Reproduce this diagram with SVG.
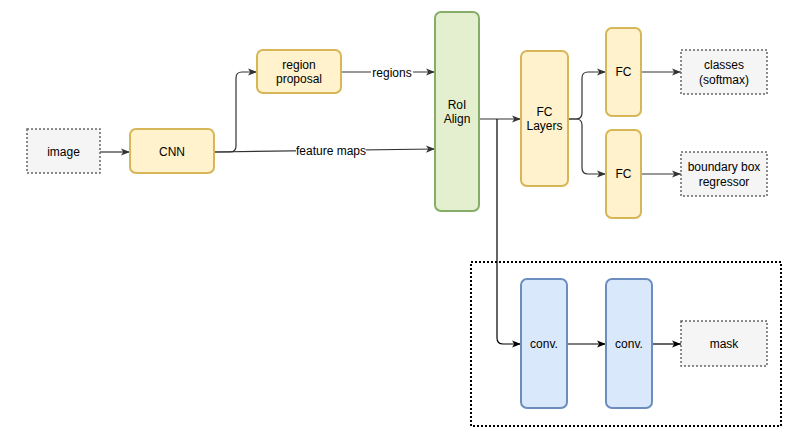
<svg xmlns="http://www.w3.org/2000/svg" width="798" height="437" viewBox="0 0 798 437">
<defs>
<style>
text{font-family:"Liberation Sans",Arial,sans-serif;font-size:12px;fill:#000;text-anchor:middle;dominant-baseline:central}
.y{fill:#fff2cc;stroke:#d6b656;stroke-width:2}
.g{fill:#e4efcf;stroke:#86ad68;stroke-width:2}
.b{fill:#dae8fc;stroke:#6c8ebf;stroke-width:2}
.d{fill:#f5f5f5;stroke:#666;stroke-width:1.5;stroke-dasharray:2 2}
.e{fill:none;stroke:#333;stroke-width:1.2}
.k{fill:none;stroke:#000;stroke-width:1.2}
</style>
<marker id="a" viewBox="0 0 10 10" refX="10" refY="5" markerWidth="9" markerHeight="9" markerUnits="userSpaceOnUse" orient="auto"><path d="M0,1 L10,5 L0,9 L2.5,5 Z" fill="#333"/></marker>
<marker id="ak" viewBox="0 0 10 10" refX="10" refY="5" markerWidth="9" markerHeight="9" markerUnits="userSpaceOnUse" orient="auto"><path d="M0,1 L10,5 L0,9 L2.5,5 Z" fill="#000"/></marker>
</defs>
<rect width="798" height="437" fill="#fff"/>
<g id="mask-head">
<rect x="471" y="262" width="310" height="164" fill="none" stroke="#000" stroke-width="2" stroke-dasharray="2 2"/>
</g>
<g id="connectors">
<path class="e" d="M100,152 L130,152" marker-end="url(#a)"/>
<path class="e" d="M214,152 L230,152 Q236,152 236,146 L236,78 Q236,72 242,72 L257,72" marker-end="url(#a)"/>
<path class="e" d="M214,152 L435,149" marker-end="url(#a)"/>
<path class="e" d="M341,72 L435,72" marker-end="url(#a)"/>
<path class="e" d="M479,119 L521,119" marker-end="url(#a)"/>
<path class="e" d="M568,119 L576,119 Q582,119 582,113 L582,78 Q582,72 588,72 L606,72" marker-end="url(#a)"/>
<path class="e" d="M568,119 L576,119 Q582,119 582,125 L582,168 Q582,174 588,174 L606,174" marker-end="url(#a)"/>
<path class="e" d="M641,72 L681,72" marker-end="url(#a)"/>
<path class="e" d="M641,174 L681,174" marker-end="url(#a)"/>
<path class="k" d="M497,119 L497,338 Q497,344 503,344 L521,344" marker-end="url(#ak)"/>
<path class="k" d="M567,344 L606,344" marker-end="url(#ak)"/>
<path class="k" d="M652,344 L681,344" marker-end="url(#ak)"/>
<rect x="371" y="65" width="42" height="14" fill="#fff"/>
<text x="392" y="73">regions</text>
<rect x="296" y="143" width="70" height="15" fill="#fff"/>
<text x="331" y="151">feature maps</text>
</g>
<g id="image"><rect class="d" x="27" y="129" width="73" height="44"/><text x="63.5" y="152">image</text></g>
<g id="cnn"><rect class="y" x="130" y="129" width="84" height="44" rx="6"/><text x="172" y="152">CNN</text></g>
<g id="region-proposal"><rect class="y" x="257" y="50" width="84" height="43" rx="6"/><text x="299" y="65">region</text><text x="299" y="79">proposal</text></g>
<g id="roi-align"><rect class="g" x="435" y="12" width="44" height="199" rx="6"/><text x="457" y="105">RoI</text><text x="457" y="119">Align</text></g>
<g id="fc-layers"><rect class="y" x="521" y="51" width="47" height="135" rx="6"/><text x="544.5" y="112">FC</text><text x="544.5" y="126">Layers</text></g>
<g id="fc1"><rect class="y" x="606" y="28" width="35" height="88" rx="6"/><text x="623.5" y="72">FC</text></g>
<g id="fc2"><rect class="y" x="606" y="130" width="35" height="88" rx="6"/><text x="623.5" y="174">FC</text></g>
<g id="classes"><rect class="d" x="681" y="50" width="86" height="44"/><text x="724" y="65">classes</text><text x="724" y="80">(softmax)</text></g>
<g id="bbox"><rect class="d" x="681" y="152" width="86" height="44"/><text x="724" y="167">boundary box</text><text x="724" y="182">regressor</text></g>
<g id="conv1"><rect class="b" x="521" y="279" width="46" height="129" rx="6"/><text x="544" y="344">conv.</text></g>
<g id="conv2"><rect class="b" x="606" y="279" width="46" height="129" rx="6"/><text x="629" y="344">conv.</text></g>
<g id="mask"><rect class="d" x="681" y="321" width="86" height="45"/><text x="724" y="344">mask</text></g>
</svg>
